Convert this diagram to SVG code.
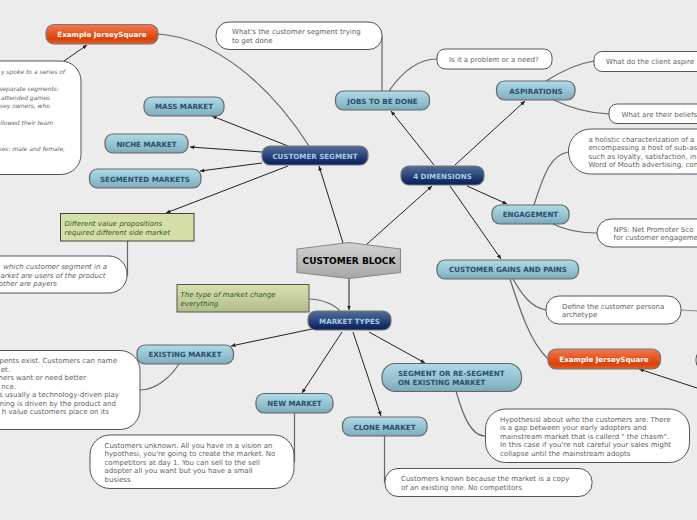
<svg xmlns="http://www.w3.org/2000/svg" width="697" height="520" viewBox="0 0 697 520">
<style>
text{font-family:"DejaVu Sans",Verdana,sans-serif}
.t{font-size:7.100px;font-weight:bold;fill:#2a4f68}
.d{font-size:7.100px;font-weight:bold;fill:#a9cde2}
.o{font-size:7.100px;font-weight:bold;fill:#fff}
.n{font-size:7px;fill:#5f5f5f}
.i{font-size:6px;font-style:italic;fill:#5f5f5f}
.ii{font-size:7px;font-style:italic;fill:#5f5f5f}
.g{font-size:7px;font-style:italic;fill:#2f5a2f}
.lb{fill:url(#lb);stroke:#666;stroke-width:1.2}
.db{fill:url(#db);stroke:#777;stroke-width:1.2}
.or{fill:url(#or);stroke:#777;stroke-width:1.2}
.w{fill:#fff;stroke:#555;stroke-width:1}
.a{fill:none;stroke:#222;stroke-width:1;marker-end:url(#ah)}
.c{fill:none;stroke:#666;stroke-width:1.2}
</style>
<defs>
<linearGradient id="lb" x1="0" y1="0" x2="0" y2="1"><stop offset="0" stop-color="#b0dbe7"/><stop offset=".75" stop-color="#8ab9c9"/><stop offset="1" stop-color="#7aa8b8"/></linearGradient>
<linearGradient id="db" x1="0" y1="0" x2="0" y2="1"><stop offset="0" stop-color="#53709a"/><stop offset=".8" stop-color="#142c68"/><stop offset="1" stop-color="#0b1f5c"/></linearGradient>
<linearGradient id="or" x1="0" y1="0" x2="0" y2="1"><stop offset="0" stop-color="#f27a50"/><stop offset=".75" stop-color="#dc4004"/><stop offset="1" stop-color="#e2602c"/></linearGradient>
<linearGradient id="gr2" x1="0" y1="0" x2="0" y2="1"><stop offset="0" stop-color="#d8e0ac"/><stop offset="1" stop-color="#b3bd8c"/></linearGradient>
<linearGradient id="hx" x1="0" y1="0" x2="0" y2="1"><stop offset="0" stop-color="#d2d2d2"/><stop offset=".7" stop-color="#b5b5b5"/><stop offset="1" stop-color="#a5a5a5"/></linearGradient>
<marker id="ah" markerWidth="6" markerHeight="6" refX="4.500" refY="2" orient="auto" markerUnits="userSpaceOnUse"><path d="M0,0L4.500,2L0,4z" fill="#222"/></marker>
</defs>
<rect width="697" height="520" fill="#ececec"/>
<g id="connectors">
<path class="a" d="M343,243L319,166"/><path class="a" d="M367,244L432,186"/><path class="a" d="M349,279L349,310"/>
<path class="a" d="M288,146L212,116"/><path class="a" d="M262,152L190,147"/><path class="a" d="M262,163L200,171"/><path class="a" d="M288,166L166,213"/>
<path class="a" d="M434,165L391,111"/><path class="a" d="M455,165L525,101"/><path class="a" d="M467,186L507,204"/><path class="a" d="M450,186L501,259"/>
<path class="a" d="M312,329L231,346"/><path class="a" d="M342,332L302,393"/><path class="a" d="M353,332L381,416"/><path class="a" d="M369,332L425,363"/>
<path class="a" d="M64,61L87,45"/><path class="a" d="M697,388L639,369"/>
<path class="c" d="M158,34C215,38 270,85 309,146"/>
<path class="c" d="M382,35L382,91"/><path class="c" d="M389,91C400,75 415,59 437,59"/>
<path class="c" d="M546,81C560,72 575,64 594,61"/><path class="c" d="M554,100C570,108 590,113 609,114"/>
<path class="c" d="M534,205C545,170 552,155 568,152"/><path class="c" d="M553,224C565,230 580,233 597,233"/>
<path class="c" d="M127.500,241L127.500,276"/><path class="c" d="M309,299C322,299 335,305 340,311"/>
<path class="c" d="M179,364C170,378 155,390 140,390"/><path class="c" d="M294.500,413L294.500,462"/><path class="c" d="M384.500,436L384.500,483"/>
<path class="c" d="M456,391C462,412 470,436 485,436"/>
<path class="c" d="M510,279C520,310 530,342 548,359"/><path class="c" d="M513,279C522,295 532,308 546,310"/>
<path class="c" style="stroke-width:1;stroke:#888" d="M681,310L697,311"/>
</g>
<g id="n-example1"><rect class="or" x="46" y="24.500" width="112" height="19.500" rx="8"/><text class="o" x="102" y="37" text-anchor="middle">Example JerseySquare</text></g>
<g id="n-story"><rect class="w" x="-40" y="61" width="121" height="113.500" rx="20"/>
<text class="i" x="65" y="74" text-anchor="end">y spoke to a series of</text>
<text class="i" x="59" y="91" text-anchor="end">separate segments:</text>
<text class="i" x="50" y="100" text-anchor="end">attended games</text>
<text class="i" x="50" y="108" text-anchor="end">sey owners, who</text>
<text class="i" x="53" y="125" text-anchor="end">llowed their team</text>
<text class="i" x="65" y="151" text-anchor="end">ses: male and female,</text></g>
<g id="n-mass"><rect class="lb" x="144" y="97" width="80" height="19" rx="8"/><text class="t" x="184" y="109" text-anchor="middle">MASS MARKET</text></g>
<g id="n-niche"><rect class="lb" x="105" y="134" width="83" height="19" rx="8"/><text class="t" x="146.500" y="147" text-anchor="middle">NICHE MARKET</text></g>
<g id="n-seg"><rect class="lb" x="89.500" y="169" width="111.500" height="19" rx="8"/><text class="t" x="145" y="182" text-anchor="middle">SEGMENTED MARKETS</text></g>
<g id="n-green1"><rect x="60.500" y="213.500" width="133.500" height="27.500" fill="#d6dfa8" stroke="#444"/><text class="g" x="64.500" y="226">Different value propositions</text><text class="g" x="64.500" y="235">required different side market</text></g>
<g id="n-which"><rect class="w" x="-40" y="256" width="167" height="37" rx="18"/>
<text class="ii" x="107" y="269" text-anchor="end">which customer segment in a</text>
<text class="ii" x="105.500" y="278" text-anchor="end">arket are users of the product</text>
<text class="ii" x="57" y="286" text-anchor="end">other are payers</text></g>
<g id="n-green2"><rect x="177" y="284.500" width="132" height="27.500" fill="url(#gr2)" stroke="#555"/><text class="g" x="180.500" y="297">The type of market change</text><text class="g" x="180.500" y="306">everything</text></g>
<g id="n-cs"><rect class="db" x="262" y="146" width="106" height="19" rx="8"/><text class="d" x="315" y="159" text-anchor="middle">CUSTOMER SEGMENT</text></g>
<g id="n-jobs"><rect class="lb" x="335.500" y="91" width="94" height="19" rx="8"/><text class="t" x="382.500" y="104" text-anchor="middle">JOBS TO BE DONE</text></g>
<g id="n-whats"><rect class="w" x="216" y="22" width="166" height="27.500" rx="13"/><text class="n" x="232" y="34">What's the customer segment trying</text><text class="n" x="232" y="43">to get done</text></g>
<g id="n-problem"><rect class="w" x="437" y="49" width="115" height="20" rx="8"/><text class="n" x="449" y="62">Is it a problem or a need?</text></g>
<g id="n-asp"><rect class="lb" x="496.500" y="81" width="78.500" height="19" rx="8"/><text class="t" x="536" y="94" text-anchor="middle">ASPIRATIONS</text></g>
<g id="n-aspire"><rect class="w" x="594" y="51.500" width="130" height="20" rx="8"/><text class="n" x="606" y="64">What do the client aspire</text></g>
<g id="n-beliefs"><rect class="w" x="609" y="104" width="130" height="19.500" rx="8"/><text class="n" x="621.500" y="117">What are their beliefs</text></g>
<g id="n-holistic"><rect class="w" x="568.500" y="129" width="170" height="45" rx="22"/>
<text class="n" x="588.500" y="142">a holistic characterization of a</text>
<text class="n" x="588.500" y="150">encompassing a host of sub-as</text>
<text class="n" x="588.500" y="159">such as loyalty, satisfaction, in</text>
<text class="n" x="588.500" y="167">Word of Mouth advertising, con</text></g>
<g id="n-eng"><rect class="lb" x="492" y="205" width="77" height="19" rx="8"/><text class="t" x="530.500" y="217" text-anchor="middle">ENGAGEMENT</text></g>
<g id="n-nps"><rect class="w" x="597" y="219" width="140" height="28" rx="14"/><text class="n" x="613.500" y="232">NPS: Net Promoter Sco</text><text class="n" x="613.500" y="240">for customer engageme</text></g>
<g id="n-4d"><rect class="db" x="401" y="166" width="83" height="19" rx="8"/><text class="d" x="442.500" y="179" text-anchor="middle">4 DIMENSIONS</text></g>
<g id="n-block"><path d="M297,249L349,242.500L400.500,249L400.500,272.500L349,278.500L297,272.500z" fill="url(#hx)" stroke="#888" stroke-width="1.2" stroke-linejoin="round"/><text x="349" y="264" text-anchor="middle" font-size="9" font-weight="bold" fill="#000">CUSTOMER BLOCK</text></g>
<g id="n-gains"><rect class="lb" x="437" y="260" width="141.500" height="19" rx="8"/><text class="t" x="508" y="272" text-anchor="middle">CUSTOMER GAINS AND PAINS</text></g>
<g id="n-mt"><rect class="db" x="308" y="311" width="83" height="19" rx="8"/><text class="d" x="349.500" y="324" text-anchor="middle">MARKET TYPES</text></g>
<g id="n-existing"><rect class="lb" x="137" y="345" width="96.500" height="19" rx="8"/><text class="t" x="185" y="357" text-anchor="middle">EXISTING MARKET</text></g>
<g id="n-exdesc"><rect class="w" x="-40" y="350.500" width="180" height="79" rx="20"/>
<text class="n" x="117" y="363" text-anchor="end">pents exist. Customers can name</text>
<text class="n" x="10" y="372" text-anchor="end">et.</text>
<text class="n" x="86" y="380" text-anchor="end">ners want or need better</text>
<text class="n" x="16" y="389" text-anchor="end">nce.</text>
<text class="n" x="119" y="397" text-anchor="end">s usually a technology-driven play</text>
<text class="n" x="116" y="406" text-anchor="end">ning is driven by the product and</text>
<text class="n" x="109" y="414" text-anchor="end">h value customers place on its</text></g>
<g id="n-new"><rect class="lb" x="256" y="393.500" width="77" height="19.500" rx="8"/><text class="t" x="294.500" y="406" text-anchor="middle">NEW MARKET</text></g>
<g id="n-unknown"><rect class="w" x="90" y="435" width="204" height="53.500" rx="20"/>
<text class="n" x="104.500" y="448">Customers unknown. All you have in a vision an</text>
<text class="n" x="104.500" y="456">hypothesi, you're going to create the  market. No</text>
<text class="n" x="104.500" y="465">competitors at day 1. You can sell to the sell</text>
<text class="n" x="104.500" y="473">adopter all you want but you have a small</text>
<text class="n" x="104.500" y="482">busiess</text></g>
<g id="n-clone"><rect class="lb" x="342.500" y="417" width="84.500" height="19" rx="8"/><text class="t" x="384.500" y="430" text-anchor="middle">CLONE MARKET</text></g>
<g id="n-known"><rect class="w" x="385" y="468.500" width="207" height="28" rx="13"/><text class="n" x="401" y="481">Customers known because the market is a copy</text><text class="n" x="401" y="490">of an existing one. No competitors</text></g>
<g id="n-segment"><rect class="lb" x="382" y="363.500" width="139.500" height="28" rx="13"/><text class="t" x="398" y="376">SEGMENT OR RE-SEGMENT</text><text class="t" x="398" y="385">ON EXISTING MARKET</text></g>
<g id="n-hyp"><rect class="w" x="485.500" y="409" width="204" height="53.500" rx="20"/>
<text class="n" x="500" y="422">Hypothesisl about who the customers are. There</text>
<text class="n" x="500" y="430">is a gap between your early adopters and</text>
<text class="n" x="500" y="439">mainstream market that is callerd " the chasm".</text>
<text class="n" x="500" y="447">In this case if you're not careful your sales might</text>
<text class="n" x="500" y="456">collapse until the mainstream adopts</text></g>
<g id="n-define"><rect class="w" x="546" y="296" width="135" height="28" rx="13"/><text class="n" x="562" y="309">Define the customer persona</text><text class="n" x="562" y="317">archetype</text></g>
<g id="n-example2"><rect class="or" x="548" y="349" width="112.500" height="20" rx="8"/><text class="o" x="604" y="362" text-anchor="middle">Example JerseySquare</text></g>
<g id="n-edge"><rect class="w" x="696" y="349" width="30" height="22" rx="10"/></g>
</svg>
